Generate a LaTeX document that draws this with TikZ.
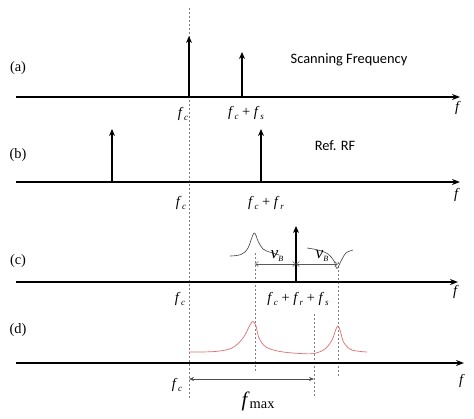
\documentclass[tikz,border=0pt]{standalone}
\usepackage{fontspec}
\setmainfont{Liberation Serif}
\newfontfamily\calib{Carlito}
\usetikzlibrary{arrows.meta}
\newcommand\fsub[1]{\textit{f}\kern0.8pt\raisebox{-0.4ex}{\small\textit{#1}}}
\newcommand\nusub{{\LARGE\textit{ν}}\raisebox{-0.5ex}{\footnotesize\textit{B}}}
\definecolor{peakred}{RGB}{222,110,110}
\tikzset{
  axisline/.style={line width=1.6pt, -{Stealth[length=8pt,width=6pt]}},
  spike/.style={line width=1.6pt, -{Stealth[length=7pt,width=6pt]}},
  guide/.style={gray, line width=0.6pt, dash pattern=on 2pt off 2pt},
  dimline/.style={gray!70!black, line width=0.5pt, {Straight Barb[length=3pt,width=5pt]}-{Straight Barb[length=3pt,width=5pt]}},
  fmaxline/.style={gray!60!black, line width=0.6pt, {Stealth[length=5pt,width=4pt]}-{Stealth[length=5pt,width=4pt]}},
  lbl/.style={font=\Large, inner sep=1pt},
  tag/.style={font=\Large, inner sep=1pt},
  txt/.style={font=\calib\Large, inner sep=1pt},
}
\begin{document}
\begin{tikzpicture}[x=1pt,y=-1pt]
\useasboundingbox (0,0) rectangle (474,418);
% guide lines
\coordinate (gcT) at (189,8);
\coordinate (gcB) at (189,398);
\draw[guide] (gcT) -- (gcB);
\coordinate (gLT) at (255,253);
\coordinate (gLB) at (255,372);
\draw[guide] (gLT) -- (gLB);
\coordinate (gRT) at (338,262);
\coordinate (gRB) at (338,377);
\draw[guide] (gRT) -- (gRB);
\coordinate (gMT) at (314,314);
\coordinate (gMB) at (314,397);
\draw[guide] (gMT) -- (gMB);

% (a)
\node[tag] (ta) at (18,68) {(a)};
\coordinate (a0) at (16,97);
\coordinate (a1) at (460,97);
\draw[axisline] (a0) -- (a1);
\coordinate (as1) at (189,97);
\coordinate (as1t) at (189,36);
\draw[spike] (as1) -- (as1t);
\coordinate (as2) at (242,97);
\coordinate (as2t) at (242,52);
\draw[spike] (as2) -- (as2t);
\node[lbl] (afc) at (183,114) {\fsub{c}};
\node[lbl] (afs) at (246,113) {\fsub{c} + \fsub{s}};
\node[lbl] (af) at (458,108) {\textit{f}};
\node[txt] (scan) at (349,60) {Scanning Frequency};

% (b)
\node[tag] (tb) at (18,155) {(b)};
\coordinate (b0) at (16,182);
\coordinate (b1) at (460,182);
\draw[axisline] (b0) -- (b1);
\coordinate (bs1) at (112,182);
\coordinate (bs1t) at (112,129);
\draw[spike] (bs1) -- (bs1t);
\coordinate (bs2) at (261,182);
\coordinate (bs2t) at (261,129);
\draw[spike] (bs2) -- (bs2t);
\node[lbl] (bfc) at (181,203) {\fsub{c}};
\node[lbl] (bfr) at (266,203) {\fsub{c} + \fsub{r}};
\node[lbl] (bf) at (457,195) {\textit{f}};
\node[txt] (ref) at (335,146) {Ref. RF};

% (c)
\node[tag] (tc) at (18,261) {(c)};
\coordinate (c0) at (16,282);
\coordinate (c1) at (458,282);
\draw[axisline] (c0) -- (c1);
\coordinate (cs) at (296,282);
\coordinate (cst) at (296,226);
\draw[spike] (cs) -- (cst);
\draw[gray!50!black, line width=0.6pt] plot[smooth, tension=0.6] coordinates
  {(230,256) (241,254.5) (248,248) (254,233) (258,241) (263,249) (271,252.5) (279,255)};
\draw[gray!50!black, line width=0.6pt] plot[smooth, tension=0.6] coordinates
  {(307,248) (318,250) (328,254) (334,261) (337,268.5) (341,261) (346,253) (353,250)};
\coordinate (dA) at (255,264);
\coordinate (dB) at (296,264);
\coordinate (dC) at (338,264);
\draw[dimline] (dA) -- (dB);
\draw[dimline] (dB) -- (dC);
\node[lbl] (nu1) at (277,256) {\nusub};
\node[lbl] (nu2) at (322,256) {\nusub};
\node[lbl] (cfc) at (180,299) {\fsub{c}};
\node[lbl] (cfs) at (298,299) {\fsub{c} + \fsub{r} + \fsub{s}};
\node[lbl] (cf) at (456,292) {\textit{f}};

% (d)
\node[tag] (td) at (18,330) {(d)};
\coordinate (d0) at (16,363);
\coordinate (d1) at (464,363);
\draw[axisline] (d0) -- (d1);
\draw[peakred, line width=0.7pt] plot[smooth, tension=0.55] coordinates
  {(189,352) (215,351.5) (232,348) (243,338) (250,325) (253,321.5) (256,326) (259,338) (266,347) (280,351.5) (300,353.5) (314,353.5) (325,349) (332,340) (336,329) (338,326) (340,330) (344,343) (352,350) (367,352)};
\coordinate (mA) at (189,379);
\coordinate (mB) at (314,379);
\draw[fmaxline] (mA) -- (mB);
\node[font=\huge, inner sep=1pt] (fmax) at (258,401) {\textit{f}\raisebox{-0.3ex}{\Large max}};
\node[lbl] (dfc) at (177,385) {\fsub{c}};
\node[lbl] (df) at (462,381) {\textit{f}};
\end{tikzpicture}
\end{document}
